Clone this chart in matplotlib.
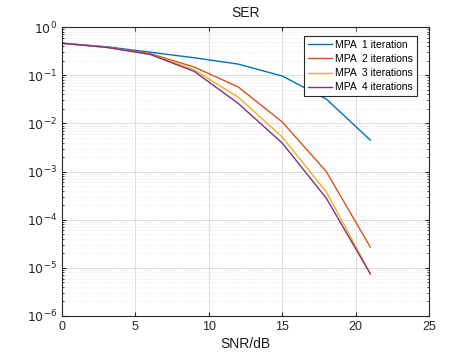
import matplotlib
matplotlib.use("Agg")
import matplotlib.pyplot as plt
from matplotlib.ticker import FixedLocator, NullFormatter

snr = [0, 3, 6, 9, 12, 15, 18, 21]
ser_1 = [0.46, 0.39, 0.30, 0.23, 0.17, 0.096, 0.032, 0.0045]
ser_2 = [0.46, 0.38, 0.28, 0.148, 0.057, 0.0107, 0.001, 2.7e-5]
ser_3 = [0.46, 0.38, 0.27, 0.13, 0.035, 0.0052, 3.8e-4, 7.6e-6]
ser_4 = [0.46, 0.38, 0.27, 0.12, 0.026, 0.0039, 2.8e-4, 7.5e-6]
labels = ["MPA  1 iteration", "MPA  2 iterations", "MPA  3 iterations", "MPA  4 iterations"]
colors = ["#0072BD", "#D95319", "#EDB120", "#7E2F8E"]
decades = [-6, -5, -4, -3, -2, -1, 0]

plt.rcParams["font.family"] = ["Liberation Sans", "DejaVu Sans"]

fig = plt.figure(figsize=(4.74, 3.55), dpi=100)
ax = fig.add_axes([0.1308, 0.1099, 0.7743, 0.814])

for ys, lab, c in zip([ser_1, ser_2, ser_3, ser_4], labels, colors):
    ax.semilogy(snr, ys, color=c, linewidth=1.0, label=lab)

ax.set_xlim(0, 25)
ax.set_ylim(1e-6, 1)
ax.set_xticks([0, 5, 10, 15, 20, 25])
ax.set_yticks([10.0 ** d for d in decades])
ax.set_yticklabels([r"$10^{%d}$" % d for d in decades])
minor = [m * 10.0 ** d for d in decades[:-1] for m in range(2, 10)]
ax.yaxis.set_minor_locator(FixedLocator(minor))
ax.yaxis.set_minor_formatter(NullFormatter())

ax.grid(which="major", color="#d9d9d9", linestyle="-", linewidth=0.6)
ax.grid(which="minor", axis="y", color="#e3e3e3", linestyle=":", linewidth=0.6)
ax.set_axisbelow(True)

ax.tick_params(which="both", direction="in", top=True, right=True,
               labelsize=9, colors="#262626", length=3)
ax.tick_params(which="minor", length=1.5)
for s in ax.spines.values():
    s.set_color("#262626")
    s.set_linewidth(0.8)

ax.set_title("SER", fontsize=10, color="#1a1a1a", pad=7)
ax.set_xlabel("SNR/dB", fontsize=10, color="#1a1a1a", labelpad=3)

leg = ax.legend(loc="upper right", bbox_to_anchor=(0.972, 0.975), fontsize=7.5,
                fancybox=False, framealpha=1, edgecolor="#262626",
                handlelength=2.3, handletextpad=0.3, borderpad=0.35,
                labelspacing=0.4, borderaxespad=0.2)
leg.get_frame().set_linewidth(0.8)

plt.savefig("out.png", dpi=100)
